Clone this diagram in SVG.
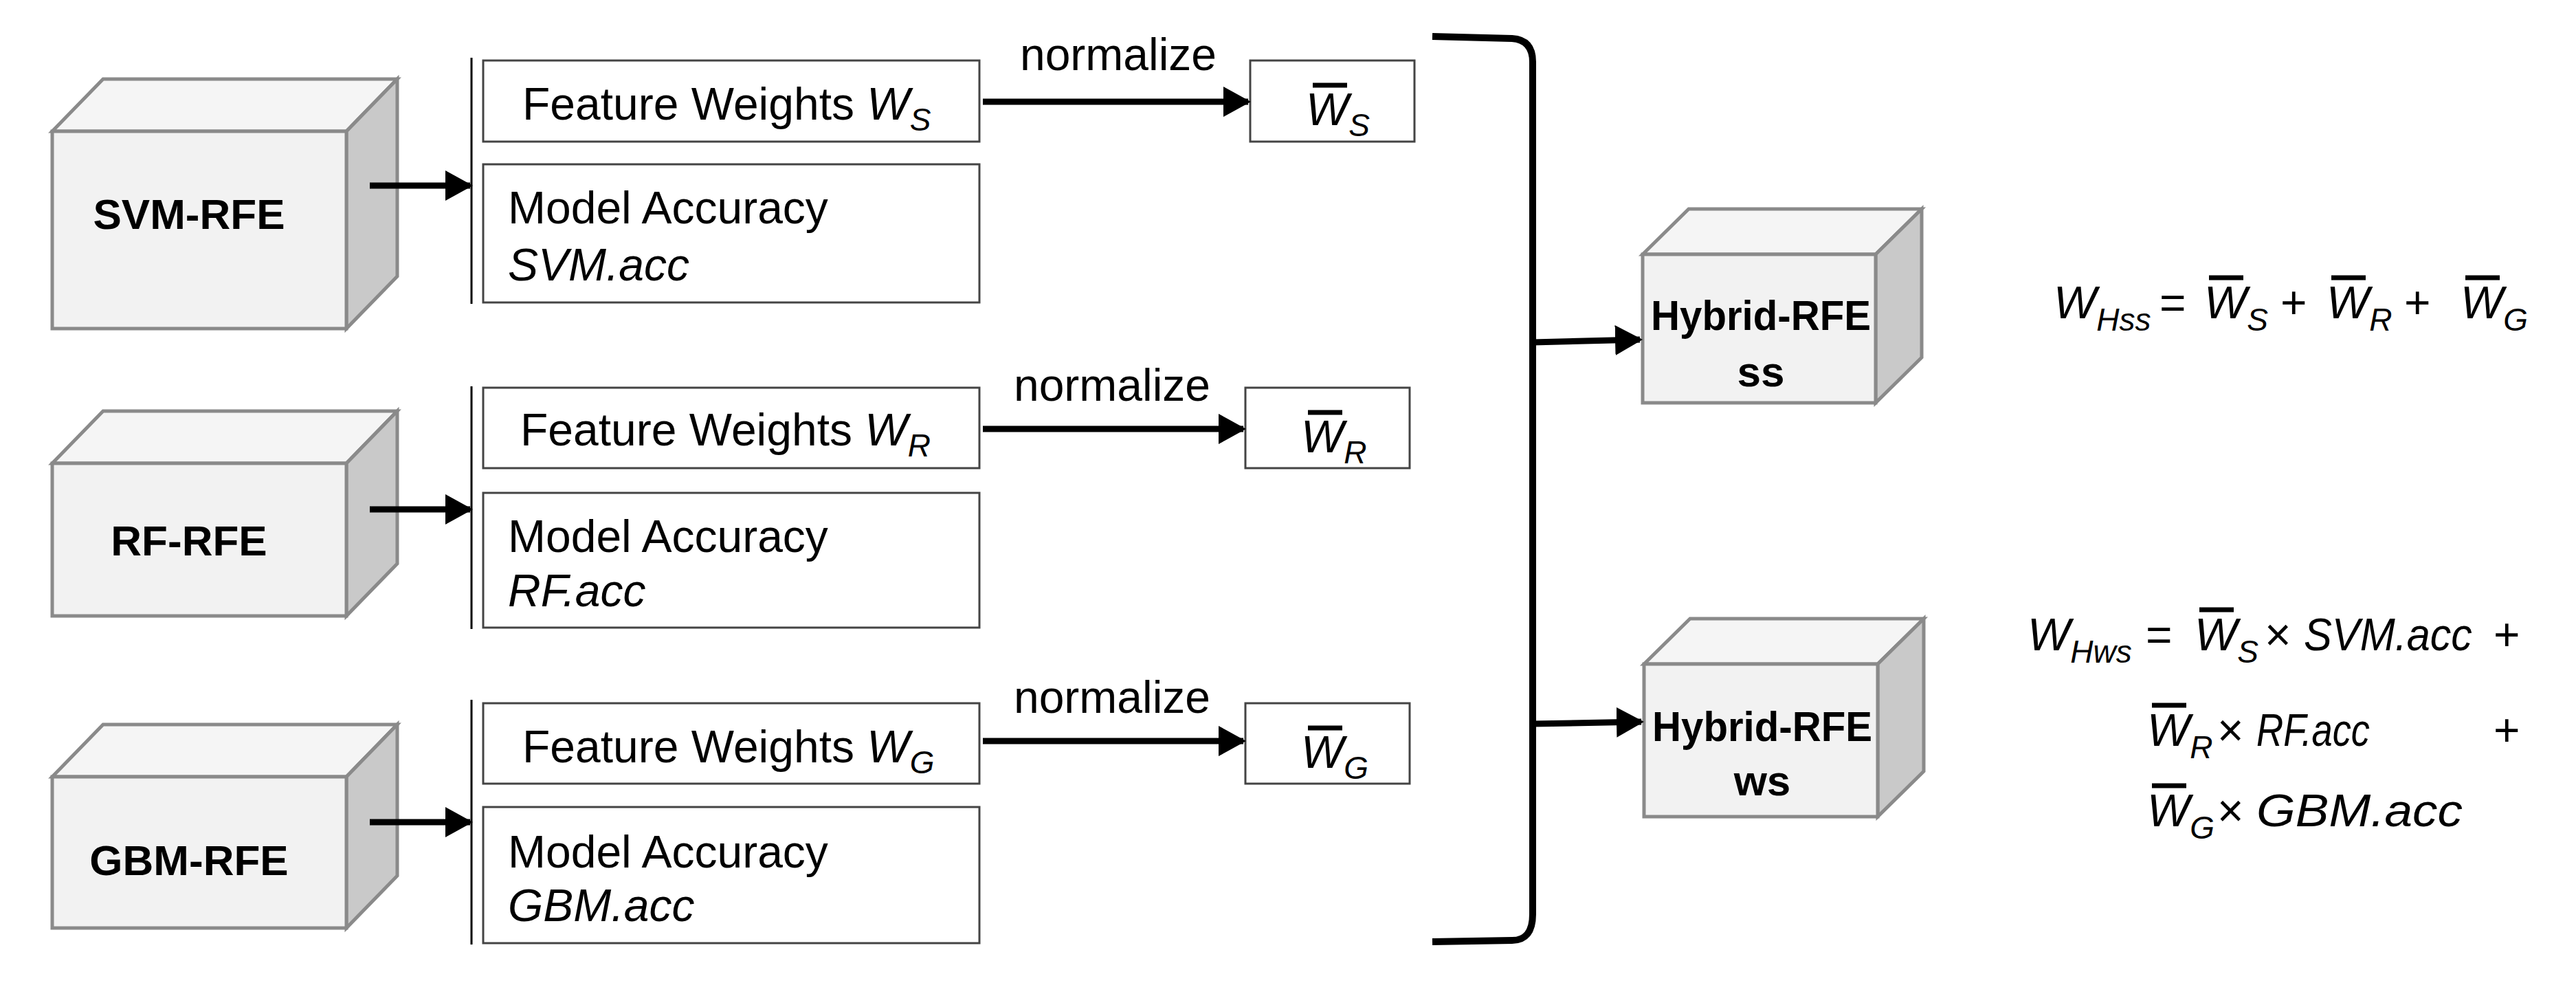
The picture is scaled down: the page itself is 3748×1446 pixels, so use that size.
<svg xmlns="http://www.w3.org/2000/svg" width="3748" height="1446" viewBox="0 0 3748 1446">
<style>
.front{fill:#f2f2f2;stroke:#8a8a8a;stroke-width:5}
.top{fill:#f5f5f5;stroke:#8a8a8a;stroke-width:5}
.side{fill:#c9c9c9;stroke:#8a8a8a;stroke-width:5}
.box{fill:#fff;stroke:#444;stroke-width:3}
.t{font-family:"Liberation Sans",Arial,sans-serif;font-size:66px;fill:#000}
.b{font-family:"Liberation Sans",Arial,sans-serif;font-size:62px;font-weight:bold;fill:#000;text-anchor:middle}
.i{font-style:italic}
.sub{font-size:46px;font-style:italic}
.bar{stroke:#000;stroke-width:7}
.arr{stroke:#000;stroke-width:9;fill:none;marker-end:url(#ah)}
.thin{stroke:#000;stroke-width:3}
</style>
<defs>
<marker id="ah" markerUnits="userSpaceOnUse" markerWidth="40" markerHeight="44" refX="36" refY="22" orient="auto">
<path d="M0,0 L40,22 L0,44 Z" fill="#000"/>
</marker>
</defs>
<rect width="3748" height="1446" fill="#fff"/>

<g id="svm-rfe">
<polygon class="top" points="76,191 150,115 578,115 504,191"/>
<polygon class="side" points="504,191 578,115 578,402 504,478"/>
<rect class="front" x="76" y="191" width="428" height="287"/>
<text class="b" x="275" y="333">SVM-RFE</text>
</g>
<g id="rf-rfe">
<polygon class="top" points="76,674 150,598 578,598 504,674"/>
<polygon class="side" points="504,674 578,598 578,820 504,896"/>
<rect class="front" x="76" y="674" width="428" height="222"/>
<text class="b" x="275" y="808">RF-RFE</text>
</g>
<g id="gbm-rfe">
<polygon class="top" points="76,1130 150,1054 578,1054 504,1130"/>
<polygon class="side" points="504,1130 578,1054 578,1274 504,1350"/>
<rect class="front" x="76" y="1130" width="428" height="220"/>
<text class="b" x="275" y="1273">GBM-RFE</text>
</g>

<g id="fw-s"><rect class="box" x="703" y="88" width="722" height="118"/>
<text class="t" x="760" y="174">Feature Weights <tspan class="i">W</tspan><tspan class="sub" dy="16">S</tspan></text></g>
<g id="ma-svm"><rect class="box" x="703" y="239" width="722" height="201"/>
<text class="t" x="739" y="325">Model Accuracy</text><text class="t i" x="739" y="408">SVM.acc</text></g>
<g id="wbar-s"><rect class="box" x="1819" y="88" width="239" height="118"/>
<line class="bar" x1="1910" y1="124" x2="1960" y2="124"/>
<text class="t" x="1900" y="182"><tspan class="i">W</tspan><tspan class="sub" dy="16">S</tspan></text></g>

<g id="fw-r"><rect class="box" x="703" y="564" width="722" height="117"/>
<text class="t" x="757" y="648">Feature Weights <tspan class="i">W</tspan><tspan class="sub" dy="16">R</tspan></text></g>
<g id="ma-rf"><rect class="box" x="703" y="717" width="722" height="196"/>
<text class="t" x="739" y="803">Model Accuracy</text><text class="t i" x="739" y="882">RF.acc</text></g>
<g id="wbar-r"><rect class="box" x="1812" y="564" width="239" height="117"/>
<line class="bar" x1="1903" y1="600" x2="1953" y2="600"/>
<text class="t" x="1893" y="658"><tspan class="i">W</tspan><tspan class="sub" dy="16">R</tspan></text></g>

<g id="fw-g"><rect class="box" x="703" y="1023" width="722" height="117"/>
<text class="t" x="760" y="1109">Feature Weights <tspan class="i">W</tspan><tspan class="sub" dy="16">G</tspan></text></g>
<g id="ma-gbm"><rect class="box" x="703" y="1174" width="722" height="198"/>
<text class="t" x="739" y="1262">Model Accuracy</text><text class="t i" x="739" y="1340">GBM.acc</text></g>
<g id="wbar-g"><rect class="box" x="1812" y="1023" width="239" height="117"/>
<line class="bar" x1="1903" y1="1059" x2="1953" y2="1059"/>
<text class="t" x="1893" y="1117"><tspan class="i">W</tspan><tspan class="sub" dy="16">G</tspan></text></g>

<g id="hybrid-ss">
<polygon class="top" points="2390,370 2457,304 2796,304 2729,370"/>
<polygon class="side" points="2729,370 2796,304 2796,520 2729,586"/>
<rect class="front" x="2390" y="370" width="339" height="216"/>
<text class="b" x="2562" y="480" textLength="320" lengthAdjust="spacingAndGlyphs">Hybrid-RFE</text><text class="b" x="2562" y="562">ss</text>
</g>
<g id="hybrid-ws">
<polygon class="top" points="2392,966 2459,900 2799,900 2732,966"/>
<polygon class="side" points="2732,966 2799,900 2799,1122 2732,1188"/>
<rect class="front" x="2392" y="966" width="340" height="222"/>
<text class="b" x="2564" y="1078" textLength="320" lengthAdjust="spacingAndGlyphs">Hybrid-RFE</text><text class="b" x="2564" y="1157">ws</text>
</g>

<g id="connectors">
<line class="thin" x1="686" y1="84" x2="686" y2="442"/>
<line class="thin" x1="686" y1="562" x2="686" y2="915"/>
<line class="thin" x1="686" y1="1018" x2="686" y2="1374"/>
<line class="arr" x1="538" y1="270" x2="684" y2="270"/>
<line class="arr" x1="538" y1="741" x2="684" y2="741"/>
<line class="arr" x1="538" y1="1196" x2="684" y2="1196"/>
<line class="arr" x1="1430" y1="148" x2="1816" y2="148"/>
<line class="arr" x1="1430" y1="624" x2="1809" y2="624"/>
<line class="arr" x1="1430" y1="1078" x2="1809" y2="1078"/>
<text class="t" x="1627" y="102" text-anchor="middle">normalize</text>
<text class="t" x="1618" y="583" text-anchor="middle">normalize</text>
<text class="t" x="1618" y="1037" text-anchor="middle">normalize</text>
<path d="M2084,53 L2200,56 Q2230,58 2230,90 L2230,1330 Q2230,1368 2200,1368 L2084,1370" fill="none" stroke="#000" stroke-width="10"/>
<line class="arr" x1="2230" y1="498" x2="2386" y2="494"/>
<line class="arr" x1="2230" y1="1053" x2="2388" y2="1050"/>
</g>

<g id="formula-ss">
<text class="t i" x="2988" y="463">W<tspan class="sub" dy="18">Hss</tspan></text>
<text class="t" x="3142" y="463">=</text>
<text class="t i" x="3207" y="463">W<tspan class="sub" dy="18">S</tspan></text>
<line class="bar" x1="3214" y1="404" x2="3264" y2="404"/>
<text class="t" x="3318" y="463">+</text>
<text class="t i" x="3385" y="463">W<tspan class="sub" dy="18">R</tspan></text>
<line class="bar" x1="3392" y1="404" x2="3442" y2="404"/>
<text class="t" x="3498" y="463">+</text>
<text class="t i" x="3580" y="463">W<tspan class="sub" dy="18">G</tspan></text>
<line class="bar" x1="3587" y1="404" x2="3637" y2="404"/>
</g>
<g id="formula-ws">
<text class="t i" x="2950" y="946">W<tspan class="sub" dy="18">Hws</tspan></text>
<text class="t" x="3122" y="946">=</text>
<text class="t i" x="3193" y="946">W<tspan class="sub" dy="18">S</tspan></text>
<line class="bar" x1="3200" y1="887" x2="3250" y2="887"/>
<text class="t" x="3295" y="946">×</text>
<text class="t i" x="3352" y="946" textLength="245" lengthAdjust="spacingAndGlyphs">SVM.acc</text>
<text class="t" x="3628" y="946">+</text>
<text class="t i" x="3124" y="1085">W<tspan class="sub" dy="18">R</tspan></text>
<line class="bar" x1="3131" y1="1026" x2="3181" y2="1026"/>
<text class="t" x="3226" y="1085">×</text>
<text class="t i" x="3283" y="1085" textLength="165" lengthAdjust="spacingAndGlyphs">RF.acc</text>
<text class="t" x="3628" y="1085">+</text>
<text class="t i" x="3124" y="1202">W<tspan class="sub" dy="18">G</tspan></text>
<line class="bar" x1="3131" y1="1143" x2="3181" y2="1143"/>
<text class="t" x="3226" y="1202">×</text>
<text class="t i" x="3283" y="1202" textLength="300" lengthAdjust="spacingAndGlyphs">GBM.acc</text>
</g>
</svg>
